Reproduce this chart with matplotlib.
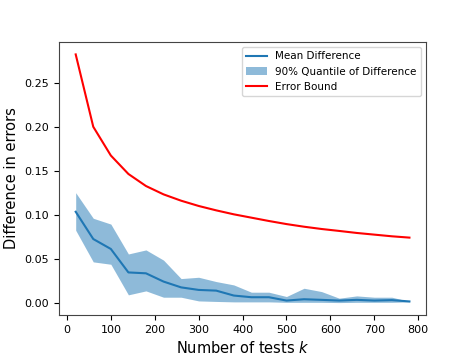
import matplotlib
matplotlib.use('Agg')
import matplotlib.pyplot as plt

# number of tests k
k_values = [20, 60, 100, 140, 180, 220, 260, 300, 340, 380,
            420, 460, 500, 540, 580, 620, 660, 700, 740, 780]

# mean difference in errors
mean_diff = [0.104, 0.073, 0.0617, 0.035, 0.034, 0.0246, 0.018, 0.0151, 0.0143, 0.0087,
             0.0068, 0.0068, 0.003, 0.0045, 0.0038, 0.003, 0.0038, 0.003, 0.0035, 0.002]

# 90% quantile band (lower / upper)
q_low = [0.083, 0.047, 0.0443, 0.0095, 0.014, 0.0068, 0.0068, 0.0026, 0.002, 0.0015,
         0.0015, 0.0015, 0.001, 0.001, 0.001, 0.0007, 0.001, 0.001, 0.001, 0.0015]
q_high = [0.1257, 0.0966, 0.090, 0.056, 0.0606, 0.049, 0.028, 0.0295, 0.0246, 0.0208,
          0.0125, 0.0125, 0.0076, 0.017, 0.0132, 0.0057, 0.0083, 0.0068, 0.0068, 0.002]

# theoretical error bound
error_bound = [0.283, 0.2007, 0.168, 0.147, 0.1333, 0.1238, 0.1166, 0.1106, 0.1056, 0.1011,
               0.0973, 0.0935, 0.090, 0.087, 0.0844, 0.0822, 0.0799, 0.078, 0.0761, 0.0746]

fig = plt.figure(figsize=(4.74, 3.55), dpi=100)
ax = fig.add_axes([0.1245, 0.1127, 0.7745, 0.769])

ax.plot(k_values, mean_diff, color='#1f77b4', lw=1.5, label='Mean Difference')
ax.fill_between(k_values, q_low, q_high, color='#1f77b4', alpha=0.5, lw=0,
                label='90% Quantile of Difference')
ax.plot(k_values, error_bound, color='red', lw=1.5, label='Error Bound')

ax.set_xticks(range(0, 801, 100))
ax.set_yticks([0.0, 0.05, 0.10, 0.15, 0.20, 0.25])
ax.tick_params(labelsize=8)
ax.set_xlabel('Number of tests $k$', fontsize=10.5)
ax.set_ylabel('Difference in errors', fontsize=10.5)

for s in ax.spines.values():
    s.set_color('#444444')

ax.legend(loc='upper right', fontsize=7.5)

fig.savefig('out.png', dpi=100)
